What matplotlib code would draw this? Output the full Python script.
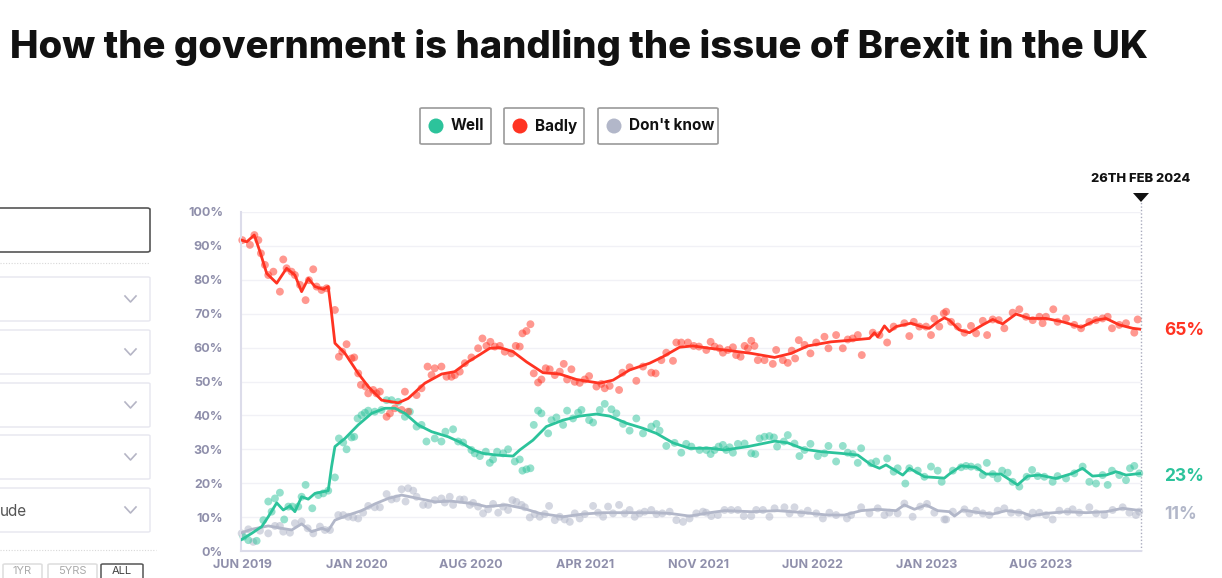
import matplotlib
matplotlib.use("Agg")
import matplotlib.pyplot as plt
from matplotlib.patches import FancyBboxPatch, Ellipse, Polygon
from matplotlib.lines import Line2D

# x values: months since the start of the tracker (June 2019), y values: percent
badly_line_m = [0.04, 0.36, 0.83, 1.19, 1.61, 2.24, 2.86, 3.38, 3.8, 4.22, 4.64, 5.16, 5.47, 5.68, 5.89,
                6.52, 7.35, 7.98, 8.82, 9.86, 10.48, 11.53, 12.58, 13.4, 14.24, 15.0, 15.6, 16.23, 17.06,
                17.9, 18.94, 19.99, 21.03, 22.5, 23.33, 24.37, 25.63, 26.46, 27.5, 28.34, 29.39, 30.33,
                32.0, 33.46, 34.5, 35.55, 37.0, 38.27, 39.41, 39.72, 39.93, 40.35, 40.66, 41.08, 42.02,
                42.65, 43.17, 43.69, 44.11, 44.42, 45.05, 45.68, 46.51, 47.14, 47.76, 48.6, 49.44, 50.48,
                51.53, 52.68, 53.62, 54.25, 55.08, 55.92, 56.44]
badly_line_v = [91.7, 91.2, 93.2, 88.3, 81.9, 79.0, 83.4, 81.4, 76.5, 80.4, 78.0, 77.2, 78.0, 70.1, 61.3,
                58.3, 52.4, 48.5, 44.5, 43.7, 45.0, 49.5, 52.2, 52.9, 55.8, 58.0, 59.8, 60.0, 58.8,
                55.8, 52.6, 52.2, 50.6, 49.5, 50.4, 53.4, 55.4, 57.3, 60.1, 60.5, 59.8, 59.3,
                58.3, 57.1, 58.3, 60.5, 61.7, 62.2, 62.7, 64.4, 63.2, 66.4, 64.7, 66.2, 67.2,
                66.2, 65.7, 67.6, 68.8, 68.1, 65.2, 64.4, 66.7, 68.3, 67.0, 69.9, 68.6, 68.6,
                67.6, 66.0, 68.1, 68.6, 66.7, 65.7, 65.4]

well_line_m = [0.04, 0.67, 1.3, 1.71, 2.24, 2.65, 3.07, 3.38, 3.8, 4.22, 4.64, 5.47, 5.68, 5.89, 6.52,
               7.35, 8.19, 9.02, 9.65, 10.28, 11.11, 11.95, 12.99, 13.83, 14.56, 15.18, 16.02, 17.06,
               17.48, 18.31, 19.15, 20.19, 21.24, 22.29, 23.12, 24.17, 25.21, 26.05, 27.09, 28.13,
               29.39, 30.33, 31.79, 33.46, 34.29, 35.34, 36.38, 37.63, 38.68, 39.52, 40.04, 40.45,
               41.5, 41.92, 42.86, 44.11, 44.42, 45.16, 46.1, 46.72, 47.66, 48.7, 49.33, 50.06, 51.1,
               52.15, 52.77, 53.4, 54.25, 54.87, 55.5, 56.44]
well_line_v = [3.4, 5.2, 7.2, 10.1, 14.2, 12.1, 13.3, 11.6, 16.0, 15.3, 17.0, 17.8, 24.9, 30.8, 33.2,
               37.2, 40.6, 42.1, 42.1, 40.6, 37.2, 35.2, 33.7, 31.9, 29.8, 28.8, 28.3, 28.0,
               29.8, 32.7, 36.7, 38.6, 39.8, 40.4, 39.8, 37.7, 36.2, 34.7, 31.9, 30.3,
               30.3, 29.8, 30.8, 32.4, 31.9, 30.0, 29.3, 28.8, 28.3, 25.4, 24.4, 25.4,
               22.4, 24.4, 21.9, 21.5, 22.7, 25.1, 24.7, 22.7, 22.7, 19.5, 22.1, 22.4, 21.4,
               22.9, 24.4, 22.1, 22.4, 23.4, 22.4, 22.9]

dk_line_m = [0.04, 0.67, 1.71, 2.55, 3.18, 3.8, 4.43, 5.06, 5.47, 5.89, 6.72, 7.56, 8.4, 9.23, 10.07,
             11.11, 12.16, 13.2, 14.66, 15.39, 16.65, 17.69, 18.73, 20.19, 21.45, 22.71, 24.17, 25.83,
             26.88, 28.13, 29.39, 30.33, 32.0, 33.67, 35.34, 36.8, 37.84, 38.89, 39.93, 41.08, 41.6,
             42.23, 42.96, 43.69, 44.42, 44.74, 45.26, 46.3, 47.14, 47.97, 49.02, 49.54, 50.48, 51.73,
             52.99, 54.25, 55.29, 56.44]
dk_line_v = [5.4, 6.4, 7.4, 6.7, 6.2, 8.0, 5.7, 6.7, 6.0, 9.1, 10.6, 11.9, 13.9, 15.5, 16.5,
             15.5, 14.5, 14.7, 13.9, 13.1, 13.6, 12.6, 11.1, 10.1, 10.9, 11.3, 11.3, 11.3,
             11.1, 10.3, 11.3, 11.9, 11.6, 11.9, 11.3, 10.6, 10.6, 11.9, 12.3, 11.9, 13.6,
             12.3, 13.6, 11.9, 11.6, 10.3, 12.1, 11.3, 10.9, 11.9, 11.3, 10.3, 11.1, 11.6,
             11.3, 11.6, 12.6, 11.9]

# individual poll results (month, percent)
badly_dots = [(0.08, 91.7), (0.56, 90.3), (0.84, 93.2), (1.09, 91.7), (1.25, 87.8), (1.5, 84.4),
              (1.71, 81.4), (2.03, 82.4), (2.44, 76.5), (2.65, 86.0), (2.86, 83.4), (3.17, 82.4),
              (3.38, 81.4), (3.7, 78.5), (4.05, 74.0), (4.26, 79.9), (4.53, 83.1), (4.74, 78.0),
              (5.05, 77.0), (5.37, 77.5), (5.89, 71.1), (6.14, 57.3), (6.35, 58.8), (6.62, 61.0),
              (6.93, 56.8), (7.1, 57.1), (7.35, 52.4), (7.52, 49.0), (7.81, 48.5), (7.98, 46.5),
              (8.29, 47.5), (8.5, 46.5), (8.71, 47.0), (9.13, 39.6), (9.34, 40.6), (9.65, 42.1),
              (10.07, 41.6), (10.28, 47.0), (10.48, 41.1), (11.01, 46.0), (11.32, 48.0), (11.7, 54.4),
              (11.95, 51.9), (12.15, 53.9), (12.57, 54.4), (12.89, 51.4), (13.2, 51.4), (13.41, 51.9),
              (13.72, 52.9), (14.04, 55.4), (14.45, 57.1), (14.87, 59.8), (15.14, 62.7), (15.39, 60.5),
              (15.64, 61.7), (15.92, 60.3), (16.23, 60.5), (16.54, 58.8), (16.96, 58.3), (17.23, 60.5),
              (17.48, 60.3), (17.65, 64.2), (17.9, 64.9), (18.15, 66.9), (18.36, 52.4), (18.63, 49.7),
              (18.84, 50.6), (19.11, 53.9), (19.36, 53.6), (19.68, 51.9), (19.99, 52.9), (20.24, 55.2),
              (20.45, 50.6), (20.72, 53.6), (20.93, 49.9), (21.24, 49.6), (21.56, 50.6), (21.83, 51.6),
              (22.29, 48.5), (22.6, 49.3), (22.81, 48.0), (23.12, 48.7), (23.71, 47.5), (23.92, 52.6),
              (24.37, 54.2), (24.79, 50.2), (25.21, 54.4), (25.73, 52.6), (26.0, 52.4), (26.36, 56.3),
              (26.67, 58.5), (27.09, 56.1), (27.3, 61.5), (27.61, 61.5), (28.03, 61.5), (28.39, 60.5),
              (28.72, 60.3), (29.18, 59.3), (29.45, 61.7), (29.7, 60.3), (30.01, 59.8), (30.22, 58.5),
              (30.53, 59.3), (30.85, 60.1), (31.05, 57.8), (31.33, 57.3), (31.58, 60.5), (31.79, 59.8),
              (32.0, 62.0), (32.2, 60.5), (32.41, 56.3), (32.83, 56.3), (33.35, 55.2), (33.56, 59.3),
              (33.98, 56.3), (34.29, 55.5), (34.54, 59.1), (34.75, 56.8), (34.98, 62.2), (35.34, 60.8),
              (35.71, 58.3), (36.07, 61.5), (36.59, 63.2), (36.84, 59.8), (37.32, 63.7), (37.74, 59.8),
              (38.05, 62.4), (38.36, 62.7), (38.68, 63.7), (38.93, 57.8), (39.62, 64.4), (40.04, 63.7),
              (40.52, 61.5), (40.93, 66.2), (41.6, 67.2), (41.91, 63.4), (42.19, 67.6), (42.54, 66.2),
              (42.96, 66.2), (43.27, 63.7), (43.48, 68.5), (43.79, 66.2), (44.07, 70.1), (44.22, 70.6),
              (44.53, 67.6), (44.95, 66.2), (45.37, 64.4), (45.78, 66.4), (46.1, 64.2), (46.52, 67.9),
              (46.79, 63.7), (47.14, 68.3), (47.52, 68.1), (47.87, 65.7), (48.39, 70.3), (48.81, 71.3),
              (49.23, 69.1), (49.65, 68.1), (50.07, 69.1), (50.27, 67.2), (50.48, 69.1), (50.94, 71.3),
              (51.21, 67.6), (51.74, 68.6), (52.26, 66.7), (52.68, 65.7), (53.2, 67.6), (53.62, 68.1),
              (54.03, 68.6), (54.35, 69.1), (54.62, 65.7), (55.08, 66.7), (55.5, 67.2), (56.02, 64.4),
              (56.23, 68.3)]

well_dots = [(0.15, 4.2), (0.46, 3.2), (0.98, 3.0), (1.4, 9.1), (1.71, 14.6), (1.92, 11.6), (2.13, 15.5),
             (2.44, 17.2), (2.71, 9.3), (2.97, 13.1), (3.22, 13.1), (3.59, 13.1), (3.8, 16.0), (4.05, 19.5),
             (4.47, 12.6), (4.85, 16.5), (5.16, 17.0), (5.47, 17.8), (5.89, 21.7), (6.14, 33.2), (6.41, 32.0),
             (6.62, 30.0), (6.93, 33.5), (7.1, 33.7), (7.31, 39.1), (7.56, 40.1), (7.77, 40.8), (7.98, 41.4),
             (8.39, 41.1), (8.81, 41.6), (9.13, 44.5), (9.44, 44.5), (9.86, 44.0), (10.28, 39.6),
             (10.59, 41.1), (11.01, 36.7), (11.32, 37.2), (11.63, 32.3), (12.15, 33.2), (12.57, 32.3),
             (12.82, 35.2), (13.3, 35.9), (13.62, 32.3), (13.93, 32.0), (14.45, 29.8), (14.66, 28.8),
             (14.98, 28.0), (15.35, 29.3), (15.6, 26.0), (15.81, 27.0), (16.06, 29.3), (16.44, 28.8),
             (16.75, 30.0), (17.17, 26.4), (17.48, 27.0), (17.65, 23.7), (17.9, 24.1), (18.15, 24.4),
             (18.36, 37.2), (18.63, 41.4), (18.84, 40.6), (19.26, 34.7), (19.47, 38.6), (19.78, 39.4),
             (20.2, 37.2), (20.45, 41.4), (20.82, 39.1), (21.14, 40.8), (21.35, 41.6), (21.83, 38.6),
             (22.08, 37.9), (22.5, 41.6), (22.81, 43.4), (23.23, 41.8), (23.54, 40.6), (23.96, 37.5),
             (24.37, 35.5), (24.79, 39.1), (25.21, 34.7), (25.73, 36.7), (26.05, 37.5), (26.25, 35.5),
             (26.67, 31.0), (27.19, 31.9), (27.61, 29.0), (27.92, 31.6), (28.24, 30.8), (28.76, 29.8),
             (29.18, 29.8), (29.45, 28.6), (29.7, 29.8), (29.95, 30.8), (30.22, 31.3), (30.43, 29.8),
             (30.64, 30.6), (30.85, 29.0), (31.16, 31.6), (31.58, 31.7), (32.0, 28.8), (32.25, 28.6),
             (32.52, 33.2), (32.83, 33.7), (33.14, 33.9), (33.42, 33.5), (33.62, 30.8), (34.04, 32.3),
             (34.29, 34.2), (34.71, 31.7), (35.02, 28.0), (35.34, 29.8), (35.71, 31.6), (36.17, 28.0),
             (36.59, 28.8), (36.84, 31.0), (37.32, 26.4), (37.74, 31.0), (38.05, 29.0), (38.36, 28.6),
             (38.68, 26.0), (38.89, 30.3), (39.51, 25.9), (39.83, 26.4), (40.52, 27.3), (40.93, 23.4),
             (41.18, 24.4), (41.66, 19.9), (41.91, 24.4), (42.44, 23.7), (42.86, 21.9), (43.27, 24.9),
             (43.69, 23.7), (43.94, 20.4), (44.64, 23.7), (45.16, 24.7), (45.47, 25.1), (45.78, 24.9),
             (46.2, 24.7), (46.52, 22.4), (46.77, 26.0), (47.14, 22.7), (47.45, 21.4), (47.73, 23.7),
             (48.08, 23.1), (48.39, 20.4), (48.81, 19.0), (49.27, 21.9), (49.61, 23.9), (49.96, 22.1),
             (50.38, 21.9), (50.9, 20.4), (51.21, 22.1), (51.74, 21.4), (52.26, 22.9), (52.78, 24.9),
             (53.2, 20.4), (53.62, 19.9), (54.03, 22.4), (54.35, 19.5), (54.62, 23.7), (55.08, 22.4),
             (55.5, 20.9), (55.75, 24.4), (56.02, 25.1), (56.33, 22.9)]

dk_dots = [(0.04, 5.2), (0.46, 6.4), (0.77, 2.7), (1.19, 6.0), (1.71, 5.2), (2.13, 7.4), (2.44, 7.4),
           (2.65, 5.7), (3.07, 5.4), (3.38, 8.2), (3.8, 8.7), (4.18, 6.7), (4.53, 5.2), (4.95, 7.2),
           (5.26, 6.2), (5.58, 6.2), (6.1, 10.6), (6.41, 10.6), (6.72, 10.1), (7.04, 9.9), (7.35, 9.6),
           (7.66, 11.3), (7.98, 13.3), (8.39, 12.9), (8.71, 12.9), (9.13, 16.8), (9.44, 15.2), (9.75, 15.5),
           (10.07, 18.2), (10.32, 14.6), (10.48, 18.5), (10.8, 17.8), (11.01, 16.0), (11.42, 13.6),
           (11.74, 13.6), (12.15, 15.0), (12.57, 15.5), (12.78, 14.3), (13.09, 16.0), (13.3, 13.6),
           (13.72, 15.2), (13.99, 15.2), (14.35, 13.6), (14.56, 14.2), (14.87, 13.1), (15.18, 11.1),
           (15.5, 12.3), (15.81, 13.9), (16.13, 11.3), (16.44, 13.1), (16.75, 12.1), (17.02, 15.0),
           (17.27, 14.5), (17.59, 13.6), (17.8, 12.9), (18.11, 9.9), (18.42, 10.9), (18.73, 10.1),
           (19.05, 10.9), (19.32, 13.3), (19.68, 9.1), (19.99, 10.1), (20.3, 9.3), (20.62, 8.6),
           (20.93, 11.1), (21.24, 9.6), (21.56, 10.9), (22.08, 13.3), (22.39, 11.3), (22.71, 10.1),
           (23.02, 13.1), (23.33, 11.1), (23.71, 13.6), (24.06, 11.1), (24.37, 12.1), (24.69, 10.1),
           (25.0, 11.1), (25.31, 11.6), (25.73, 12.1), (26.05, 10.9), (26.42, 11.1), (26.88, 11.6),
           (27.3, 9.1), (27.72, 8.6), (28.13, 9.6), (28.55, 11.1), (28.97, 11.6), (29.17, 11.3),
           (29.49, 10.3), (29.91, 10.6), (30.32, 12.1), (30.74, 12.1), (31.16, 12.1), (31.53, 10.3),
           (32.0, 10.3), (32.31, 12.1), (32.73, 12.1), (33.14, 10.1), (33.46, 12.6), (34.08, 12.9),
           (34.4, 11.1), (34.71, 12.9), (35.13, 11.1), (35.54, 11.9), (36.07, 11.1), (36.49, 9.6),
           (36.9, 11.3), (37.32, 10.6), (38.0, 9.6), (38.26, 10.6), (38.89, 12.9), (39.41, 11.1),
           (39.93, 12.6), (40.35, 10.6), (40.66, 11.3), (41.18, 11.1), (41.6, 14.0), (42.12, 10.1),
           (42.6, 13.1), (43.02, 13.9), (43.48, 11.3), (44.11, 9.3), (44.22, 9.3), (44.64, 11.6),
           (45.37, 12.3), (45.68, 11.1), (46.1, 11.9), (46.52, 11.1), (46.93, 10.6), (47.45, 11.9),
           (47.87, 12.6), (48.29, 11.3), (48.77, 11.3), (49.33, 10.1), (49.65, 11.3), (50.07, 11.3),
           (50.48, 10.6), (50.9, 9.3), (51.32, 11.9), (51.84, 11.6), (52.15, 12.3), (52.57, 11.3),
           (53.2, 12.9), (53.62, 11.1), (54.14, 10.6), (54.66, 12.1), (55.29, 12.9), (55.71, 11.3),
           (56.12, 10.6), (56.33, 11.6)]

tick_m = [0.06, 7.27, 14.41, 21.55, 28.7, 35.84, 42.98, 50.13]
tick_labels = ["JUN 2019", "JAN 2020", "AUG 2020", "APR 2021", "NOV 2021", "JUN 2022", "JAN 2023", "AUG 2023"]
end_m = 56.44
end_labels = ["65%", "23%", "11%"]
series_names = ["Well", "Badly", "Don't know"]

RED, GREEN, GREY = "#ff3322", "#2cc39b", "#b2b7c9"
AXIS_TXT = "#8f8fab"
FONT = ["Inter", "DejaVu Sans"]

W, H = 1222, 578
fig = plt.figure(figsize=(W / 100, H / 100), dpi=100)
fig.patch.set_facecolor("white")


def fx(x):
    return x / W


def fy(y):
    return 1 - y / H


def box(x0, y0, x1, y1, ec, lw=1.0, fc="white", r=3):
    p = FancyBboxPatch((fx(x0), fy(y1)), fx(x1 - x0), (y1 - y0) / H,
                       boxstyle=f"round,pad=0,rounding_size={r / W}",
                       transform=fig.transFigure, ec=ec, fc=fc, lw=lw)
    fig.add_artist(p)


# title
fig.text(fx(10), fy(48), "How the government is handling the issue of Brexit in the UK",
         fontsize=27.5, fontweight="heavy", family=FONT, va="center", ha="left", color="#111111")

# legend buttons
legend = [(420, 491, GREEN), (504, 584, RED), (598, 718, GREY)]
for (x0, x1, c), name in zip(legend, series_names):
    box(x0, 108, x1, 144, "#9a9a9a", lw=1.2, r=2)
    fig.add_artist(Ellipse((fx(x0 + 16), fy(126)), 15 / W, 15 / H, transform=fig.transFigure,
                           fc=c, ec="none"))
    fig.text(fx(x0 + 31), fy(126), name, fontsize=11, fontweight="bold", family=FONT,
             va="center", ha="left", color="#111111")

# left filter panel
box(-6, 208, 150, 252, "#555555", lw=1.2, r=3)
fig.add_artist(Line2D([fx(0), fx(150)], [fy(263), fy(263)], transform=fig.transFigure,
                      color="#d8d8d8", lw=0.8, ls=(0, (1, 1.5))))
for y0 in [277, 330, 383, 435, 488]:
    box(-6, y0, 150, y0 + 44, "#e6e6ef", lw=1.0, r=2)
    cy = y0 + 22
    fig.add_artist(Line2D([fx(125), fx(130.5), fx(136)], [fy(cy - 3), fy(cy + 3), fy(cy - 3)],
                          transform=fig.transFigure, color="#b5b5c5", lw=1.2))
fig.text(fx(0), fy(511), "ude", fontsize=11, family=FONT, va="center", ha="left", color="#555555")
fig.add_artist(Line2D([fx(0), fx(156)], [fy(550), fy(550)], transform=fig.transFigure,
                      color="#d8d8d8", lw=0.8, ls=(0, (1, 1.5))))
for x0, x1, lab, ec, tc in [(3, 42, "1YR", "#dddddd", "#aaaaaa"), (48, 97, "5YRS", "#dddddd", "#aaaaaa"),
                            (101, 143, "ALL", "#555555", "#444444")]:
    box(x0, 564, x1, 590, ec, lw=1.1, r=2)
    fig.text(fx((x0 + x1) / 2), fy(571.5), lab, fontsize=8, family=FONT, va="center", ha="center",
             color=tc)

# chart area
ax = fig.add_axes([fx(241), fy(551), fx(900), (551 - 212) / H])
ax.set_xlim(0, end_m)
ax.set_ylim(0, 100)
ax.set_facecolor("white")

for dots, c, a in [(dk_dots, GREY, 0.55), (well_dots, GREEN, 0.5), (badly_dots, RED, 0.5)]:
    ax.scatter([d[0] for d in dots], [d[1] for d in dots], s=32, color=c, alpha=a,
               edgecolors="none", clip_on=False, zorder=2)

ax.plot(dk_line_m, dk_line_v, color=GREY, lw=2.0, zorder=3, solid_joinstyle="round")
ax.plot(well_line_m, well_line_v, color=GREEN, lw=2.0, zorder=3, solid_joinstyle="round")
ax.plot(badly_line_m, badly_line_v, color=RED, lw=2.0, zorder=3, solid_joinstyle="round")

ax.set_yticks(range(0, 101, 10))
ax.set_yticklabels([f"{v}%" for v in range(0, 101, 10)])
ax.set_xticks(tick_m)
ax.set_xticklabels(tick_labels)
ax.tick_params(length=0, labelsize=9, labelcolor=AXIS_TXT)
ax.tick_params(axis="y", pad=13)
ax.tick_params(axis="x", pad=6)
for lab in ax.get_xticklabels() + ax.get_yticklabels():
    lab.set_fontweight("bold")
    lab.set_family(FONT)
ax.grid(axis="y", color="#f1f1f6", lw=1.0)
ax.set_axisbelow(True)
for s in ["top", "right"]:
    ax.spines[s].set_visible(False)
for s in ["left", "bottom"]:
    ax.spines[s].set_color("#dcdcea")
    ax.spines[s].set_linewidth(1.5)

# latest date marker
ax.axvline(end_m, ymax=1.03, color="#a9abbd", lw=1.0, ls=(0, (1, 1.5)), clip_on=False, zorder=1)
fig.add_artist(Polygon([(fx(1133), fy(193)), (fx(1149), fy(193)), (fx(1141), fy(202))],
                       closed=True, transform=fig.transFigure, fc="#111111", ec="none"))
fig.text(fx(1141), fy(179), "26TH FEB 2024", fontsize=9.3, fontweight="heavy", family=FONT,
         va="center", ha="center", color="#111111")

# end labels
for v, lab, c, dy in zip([badly_line_v[-1], well_line_v[-1], dk_line_v[-1]], end_labels,
                         [RED, GREEN, GREY], [-1, -2, -3]):
    ax.annotate(lab, (end_m, v), xytext=(17, dy), textcoords="offset points", va="center", ha="left",
                fontsize=12.5, fontweight="bold", family=FONT, color=c, annotation_clip=False)

fig.savefig("out.png", dpi=100)
